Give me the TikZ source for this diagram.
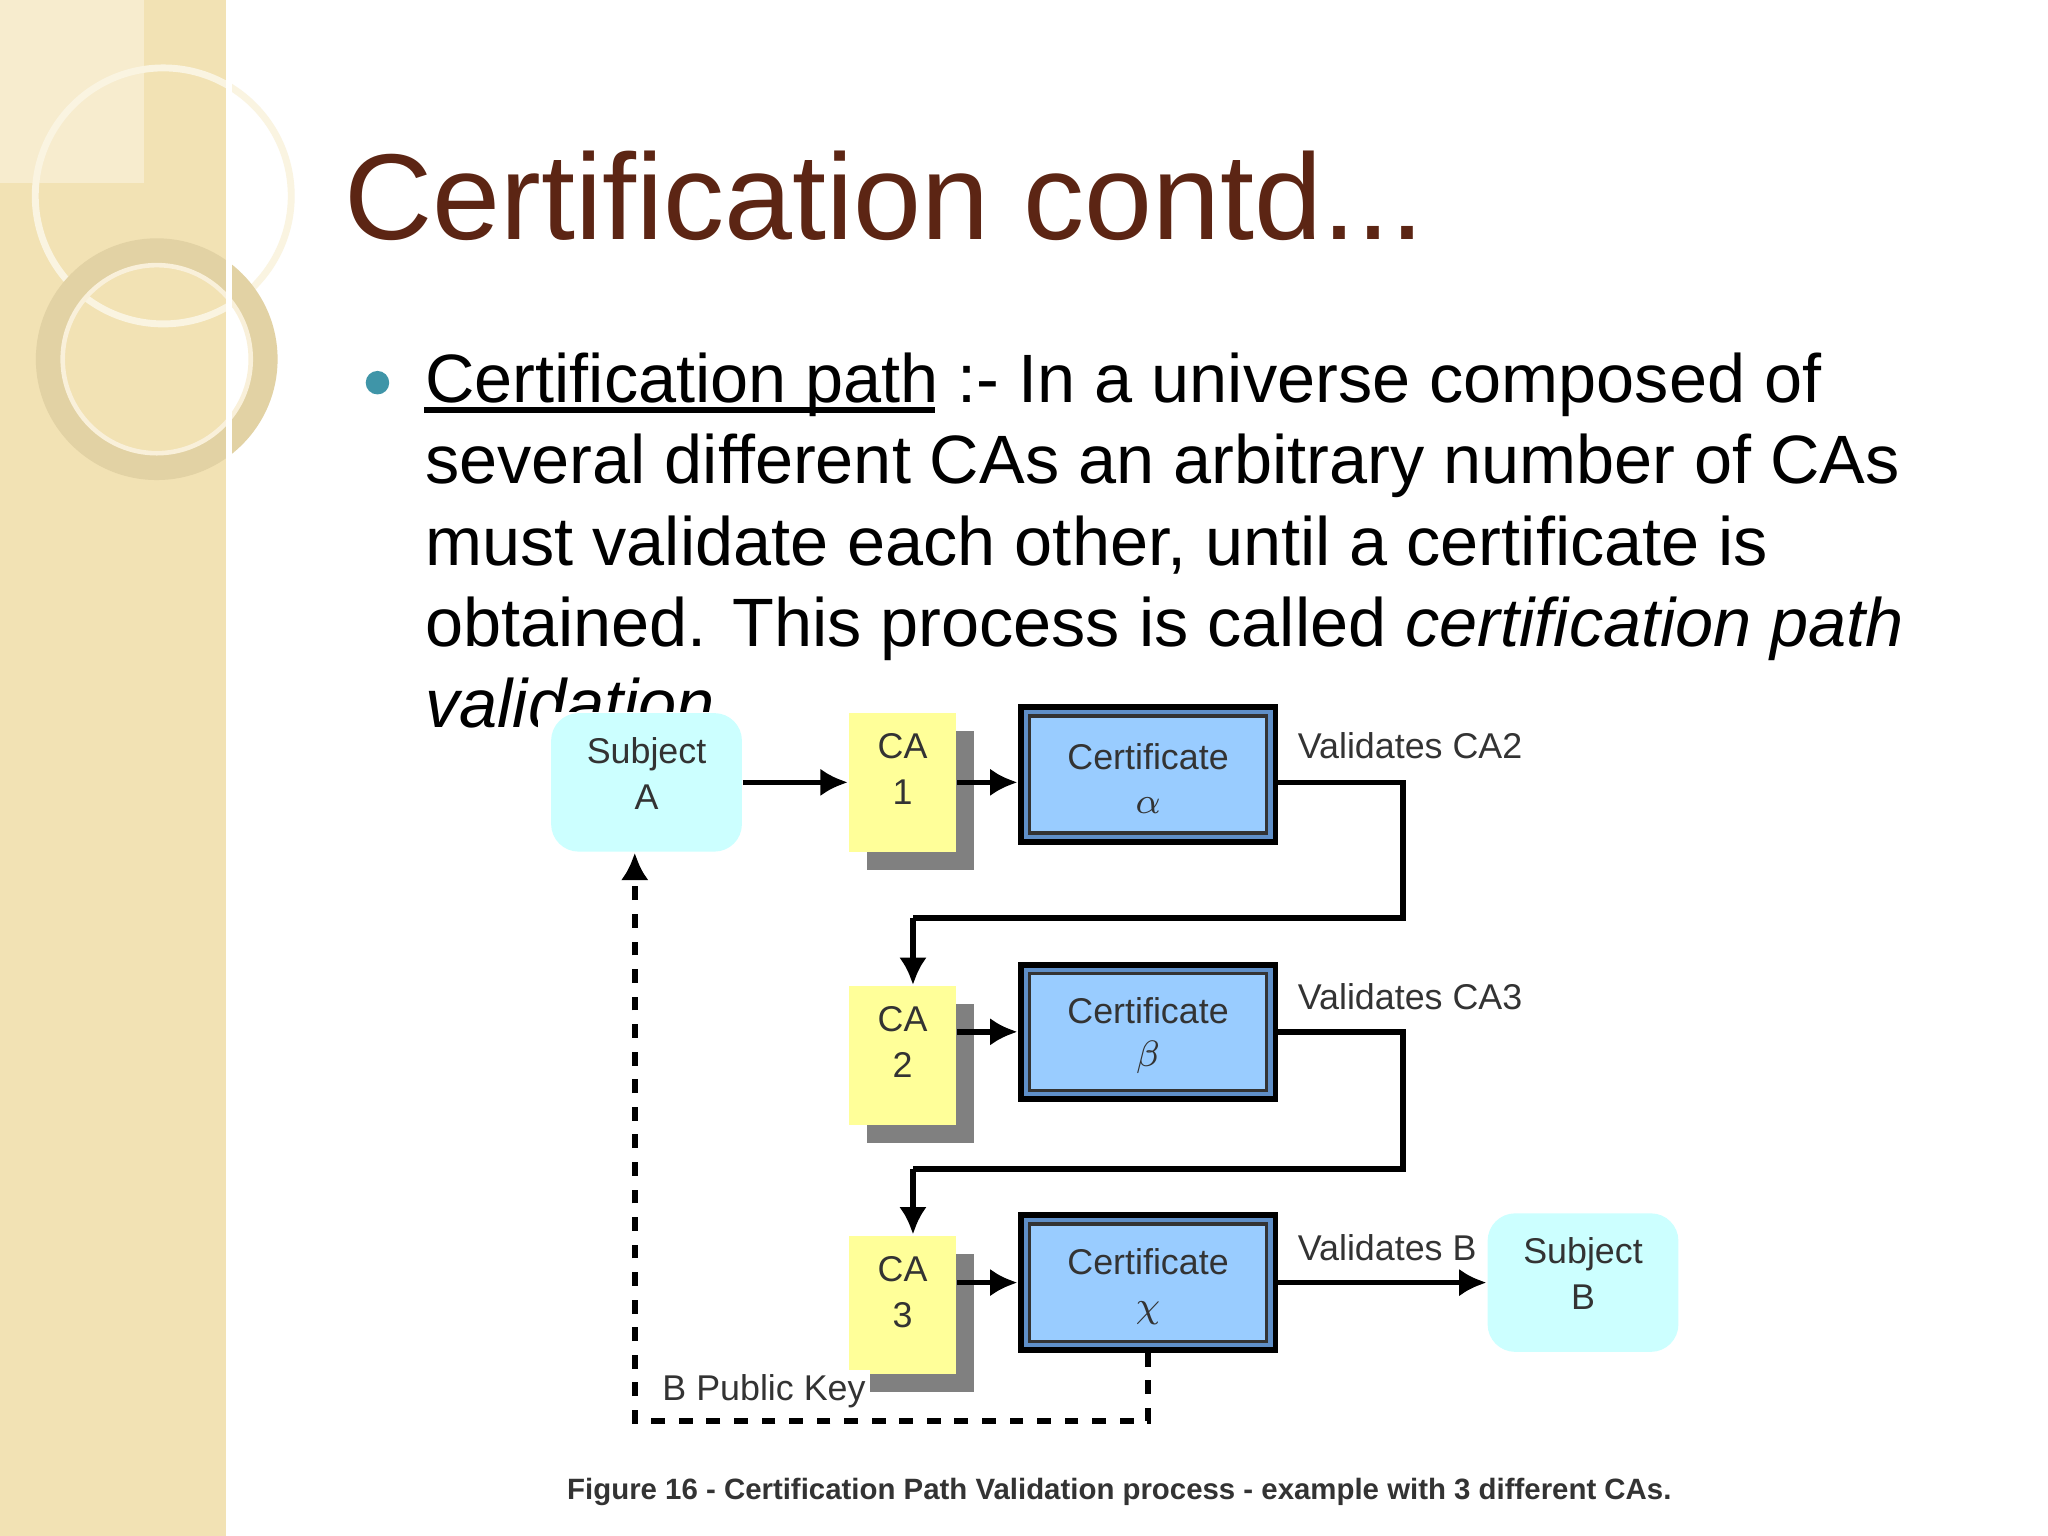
\documentclass[tikz,border=0pt]{standalone}
\usepackage{fontspec}
\setmainfont{Liberation Sans}
\usetikzlibrary{calc,arrows.meta}
\definecolor{titlec}{HTML}{5C2514}
\definecolor{strip}{HTML}{F2E2B4}
\definecolor{ringc}{HTML}{E2D2A4}
\definecolor{cyanbox}{HTML}{CCFFFF}
\definecolor{yel}{HTML}{FFFF99}
\definecolor{shad}{HTML}{808080}
\definecolor{certc}{HTML}{99CCFF}
\definecolor{certd}{HTML}{5F8FC8}
\definecolor{bul}{HTML}{3F95A8}
\definecolor{dtext}{HTML}{333333}
\tikzset{
 subj/.style={fill=cyanbox,rounded corners=6pt,minimum width=1.46cm,minimum height=1.06cm},
 cabox/.style={fill=yel,minimum width=0.82cm,minimum height=1.06cm},
 cert/.style={fill=certd,draw=black,line width=1.3pt,minimum width=1.95cm,minimum height=1.03cm},
 dtxt/.style={font=\fontsize{7.8pt}{10pt}\selectfont,text=dtext,align=center,inner sep=0pt},
 certtxt/.style={font=\fontsize{7.8pt}{10.5pt}\selectfont,text=dtext,align=center},
 conn/.style={line width=1.2pt,-{Latex[length=6pt,width=6pt]}},
 line/.style={line width=1.2pt},
 lbl/.style={font=\fontsize{7.8pt}{10pt}\selectfont,text=dtext,anchor=base west,inner sep=0pt},
 body/.style={font=\fontsize{14.9pt}{18pt}\selectfont,anchor=base west,inner sep=0pt}
}
\newcommand{\certinner}[1]{\fill[certc] ($(#1.north west)+(9,9)$) rectangle ($(#1.south east)+(-9,-9)$);
 \draw[black!80,line width=0.7pt] ($(#1.north west)+(9,9)$) rectangle ($(#1.south east)+(-9,-9)$);}
\begin{document}
\begin{tikzpicture}[x=0.01cm,y=-0.01cm]
\useasboundingbox (0,0) rectangle (1568,1176);
\fill[white] (0,0) rectangle (1568,1176);
% left strip
\fill[strip] (0,0) rectangle (173,1176);
\fill[white!35!strip] (0,0) rectangle (110,140);
\draw[white!60!strip,line width=1.5pt] (125,150) circle (98);
\draw[ringc,line width=6pt] (120,275) circle (82);
\draw[white!50!strip,line width=1pt] (120,275) circle (72);
\fill[white] (173,0) rectangle (178,1176);
% title
\node[anchor=base west,inner sep=0pt,text=titlec,font=\fontsize{26.6pt}{30pt}\selectfont] (title) at (263,183) {Certification contd...};
% bullet text
\fill[bul] (289,293) circle (9);
\node[body] (l1) at (325,308) {Certification path :- In a universe composed of};
\draw[line width=1.3pt] (325,314) -- (716,314);
\node[body] (l2) at (325,370) {several different CAs an arbitrary number of CAs};
\node[body] (l3) at (325,433) {must validate each other, until a certificate is};
\node[body] (l4) at (325,495) {obtained. This process is called \textit{certification path}};
\node[body] (l5) at (325,557) {\textit{validation.}};
\fill[white] (412,545) rectangle (1300,1165);
\fill[white] (545,532) rectangle (1300,545);
% diagram nodes
\node[subj] (sa) at (495,599) {};
\node[dtxt] (sat) at (495,592) {Subject\\A};
\fill[shad] (664,560) rectangle (746,666);
\node[cabox] (ca1) at (691,599) {};
\node[dtxt] (ca1t) at (691,589) {CA\\1};
\node[cert] (c1) at (879,593) {};
\certinner{c1}
\node[certtxt] at (879,596) {Certificate\\[-1pt]$\alpha$};

\fill[shad] (664,769) rectangle (746,875);
\node[cabox] (ca2) at (691,808) {};
\node[dtxt] (ca2t) at (691,798) {CA\\2};
\node[cert] (c2) at (879,790) {};
\certinner{c2}
\node[certtxt] at (879,793) {Certificate\\[-1pt]$\beta$};

\fill[shad] (664,960) rectangle (746,1066);
\node[cabox] (ca3) at (691,999) {};
\node[dtxt] (ca3t) at (691,989) {CA\\3};
\node[cert] (c3) at (879,982) {};
\certinner{c3}
\node[certtxt] at (879,985) {Certificate\\[-1pt]$\chi$};

\node[subj] (sb) at (1212,982) {};
\node[dtxt] (sbt) at (1212,975) {Subject\\B};
% connectors
\draw[conn] (sa.east) -- (ca1.west);
\draw[conn] (ca1.east) -- (c1.west |- ca1);
\draw[conn] (ca2.east |- c2) -- (c2.west);
\draw[conn] (ca3.east |- c3) -- (c3.west);
\draw[line] (c1.east |- ca1) -- (1074,599) -- (1074,703) -- (699,703);
\draw[conn] (699,703) -- (ca2.north -| 699,0);
\draw[line] (c2.east) -- (1074,790) -- (1074,895) -- (699,895);
\draw[conn] (699,895) -- (ca3.north -| 699,0);
\draw[conn] (c3.east) -- (sb.west);
\draw[line,dashed,-{Latex[length=6pt,width=6pt]}] (c3.south) -- (879,1088) -- (486,1088) -- (sa.south -| 486,0);
% labels
\node[lbl] (v1) at (993,581) {Validates CA2};
\node[lbl] (v2) at (993,773) {Validates CA3};
\node[lbl] (v3) at (993,965) {Validates B};
\node[lbl,fill=white,inner sep=1pt] (pk) at (503,1072) {B Public Key};
\node[font=\bfseries\fontsize{6.4pt}{8pt}\selectfont,text=dtext,inner sep=0pt,anchor=base] (cap) at (857,1148) {Figure 16 - Certification Path Validation process - example with 3 different CAs.};
\end{tikzpicture}
\end{document}
